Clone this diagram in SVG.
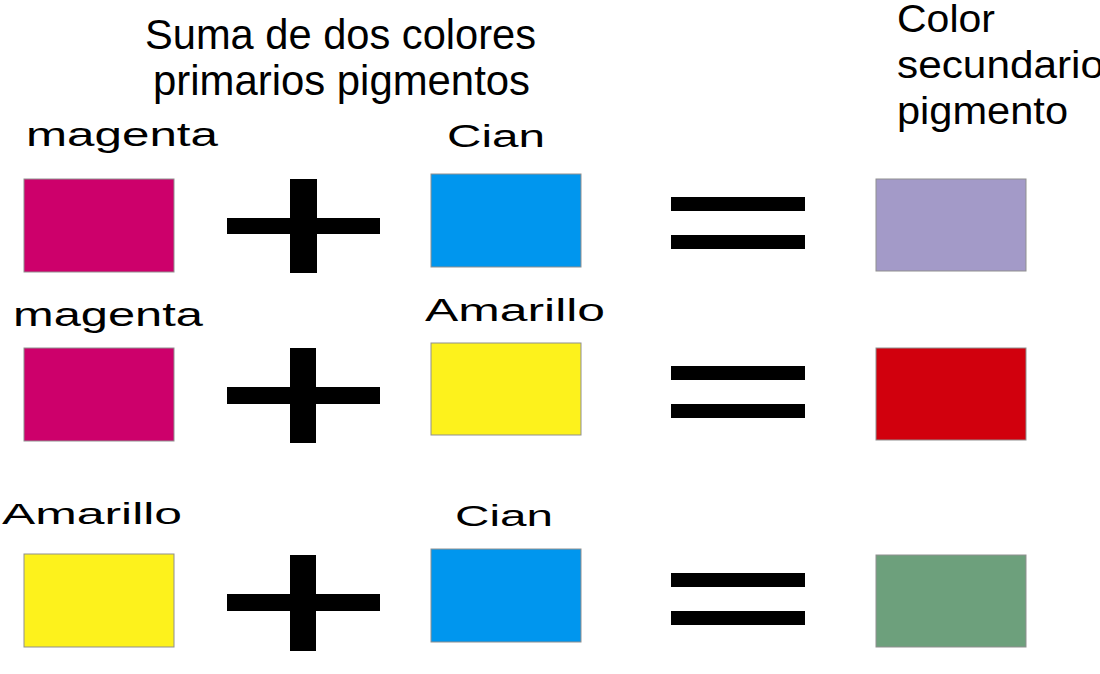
<svg xmlns="http://www.w3.org/2000/svg" width="1100" height="674" viewBox="0 0 1100 674">
<style>
text{font-family:"Liberation Sans",Arial,sans-serif;fill:#000;}
.t{font-size:42px;}
.r{font-size:38px;}
.lbl{font-size:31px;}
.sw{stroke:#8f8f8f;stroke-width:1;}
.mag{fill:#cd006b;}
.cya{fill:#0096ee;}
.yel{fill:#fdf21c;}
.pur{fill:#a39ac8;}
.red{fill:#d1000d;}
.grn{fill:#6da07c;}
.op{fill:#000;}
</style>
<rect width="1100" height="674" fill="#fff"/>
<g id="title">
<text class="t" x="145" y="49" textLength="391" lengthAdjust="spacingAndGlyphs">Suma de dos colores</text>
<text class="t" x="153" y="95" textLength="377" lengthAdjust="spacingAndGlyphs">primarios pigmentos</text>
</g>
<g id="result-title">
<text class="r" x="897" y="32" textLength="98" lengthAdjust="spacingAndGlyphs">Color</text>
<text class="r" x="897" y="78" textLength="207" lengthAdjust="spacingAndGlyphs">secundario</text>
<text class="r" x="897" y="124" textLength="171" lengthAdjust="spacingAndGlyphs">pigmento</text>
</g>
<g id="row1-magenta">
<text class="lbl" style="font-size:34px" x="26" y="146" textLength="192" lengthAdjust="spacingAndGlyphs">magenta</text>
<rect class="sw mag" x="24" y="179" width="150" height="93"/>
</g>
<g id="row1-cian">
<text class="lbl" x="447" y="147" textLength="98" lengthAdjust="spacingAndGlyphs">Cian</text>
<rect class="sw cya" x="431" y="174" width="150" height="93"/>
</g>
<g id="row1-result">
<rect class="sw pur" x="876" y="179" width="150" height="92"/>
</g>
<g id="row2-magenta">
<text class="lbl" style="font-size:34px" x="13" y="326" textLength="190" lengthAdjust="spacingAndGlyphs">magenta</text>
<rect class="sw mag" x="24" y="348" width="150" height="93"/>
</g>
<g id="row2-amarillo">
<text class="lbl" x="425" y="321" textLength="180" lengthAdjust="spacingAndGlyphs">Amarillo</text>
<rect class="sw yel" x="431" y="343" width="150" height="92"/>
</g>
<g id="row2-result">
<rect class="sw red" x="876" y="348" width="150" height="92"/>
</g>
<g id="row3-amarillo">
<text class="lbl" style="font-size:30px" x="2" y="523.5" textLength="180" lengthAdjust="spacingAndGlyphs">Amarillo</text>
<rect class="sw yel" x="24" y="554" width="150" height="93"/>
</g>
<g id="row3-cian">
<text class="lbl" style="font-size:30px" x="455" y="525.5" textLength="98" lengthAdjust="spacingAndGlyphs">Cian</text>
<rect class="sw cya" x="431" y="549" width="150" height="93"/>
</g>
<g id="row3-result">
<rect class="sw grn" x="876" y="555" width="150" height="92"/>
</g>
<g id="operators">
<rect class="op" x="227" y="218" width="153" height="16"/>
<rect class="op" x="290" y="179" width="27" height="94"/>
<rect class="op" x="227" y="387" width="153" height="17"/>
<rect class="op" x="290" y="348" width="26" height="95"/>
<rect class="op" x="227" y="594" width="153" height="17"/>
<rect class="op" x="290" y="555" width="26" height="96"/>
<rect class="op" x="671" y="197" width="134" height="14"/>
<rect class="op" x="671" y="235" width="134" height="14"/>
<rect class="op" x="671" y="366" width="134" height="14"/>
<rect class="op" x="671" y="404" width="134" height="14"/>
<rect class="op" x="671" y="573" width="134" height="14"/>
<rect class="op" x="671" y="611" width="134" height="14"/>
</g>
</svg>
